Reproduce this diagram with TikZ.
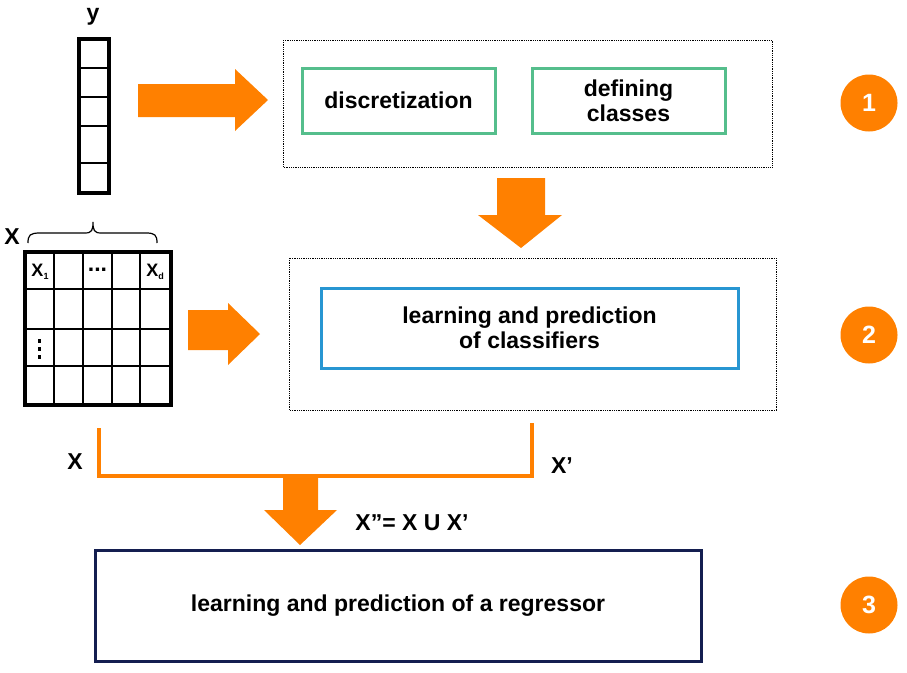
\documentclass[tikz,border=0pt]{standalone}
\usepackage{fontspec}
\setmainfont{Liberation Sans}
\begin{document}
\begin{tikzpicture}[x=1pt,y=-1pt,font=\bfseries\fontsize{23}{25}\selectfont,
  dotbox/.style={draw,densely dotted,line width=0.8pt},
  gbox/.style={draw=greenc,line width=3pt},
  num/.style={circle,fill=orangec,text=white,minimum size=57pt,inner sep=0pt,font=\bfseries\fontsize{25}{27}\selectfont},
  thick2/.style={line width=3.5pt}]
\definecolor{orangec}{RGB}{255,128,0}
\definecolor{greenc}{RGB}{85,190,140}
\definecolor{bluec}{RGB}{40,150,210}
\definecolor{navyc}{RGB}{20,30,80}
\useasboundingbox (0,0) rectangle (907,672);
% y vector
\node at (93,17) {y};
\foreach \yy in {68,97,126,163} \draw[line width=1.2pt] (79,\yy) -- (109,\yy);
\draw[thick2] (79,39) rectangle (109,193);
% arrow 1
\fill[orangec] (138,84) -- (235,84) -- (235,69) -- (268,100) -- (235,131) -- (235,117) -- (138,117) -- cycle;
% box 1
\draw[dotbox] (283,40) rectangle (772,167);
\node[gbox,minimum width=193pt,minimum height=65pt] (disc) at (398.5,100.5) {discretization};
\node[gbox,minimum width=193pt,minimum height=65pt,align=center] (def) at (628.5,100.5) {defining\\classes};
% down arrow 1
\fill[orangec] (497,178) -- (545,178) -- (545,215) -- (562,215) -- (521,248) -- (478,215) -- (497,215) -- cycle;
% brace
\draw[line width=1.2pt] (28,243) .. controls (28,235) and (30,233) .. (40,233) -- (85,233) .. controls (92,233) and (93,230) .. (93,222)
      .. controls (93,230) and (94,233) .. (101,233) -- (146,233) .. controls (155,233) and (157,235) .. (157,243);
\node at (12,237) {X};
% matrix
\foreach \xx in {54,83,112,140} \draw[line width=1.2pt] (\xx,252) -- (\xx,405);
\foreach \yy in {289,329,366} \draw[line width=1.2pt] (25,\yy) -- (171,\yy);
\draw[thick2] (25,252) rectangle (171,405);
\node[font=\bfseries\fontsize{18}{19}\selectfont] at (40,272) {X\raisebox{-3pt}{\fontsize{9}{9}\selectfont 1}};
\node at (97.5,270) {...};
\node[font=\bfseries\fontsize{18}{19}\selectfont] at (155,272) {X\raisebox{-3pt}{\fontsize{9}{9}\selectfont d}};
\foreach \yy in {339,347,355} \fill (37.5,\yy) rectangle +(3.5,3.5);
% arrow 2
\fill[orangec] (188,310) -- (228,310) -- (228,303) -- (260,334) -- (228,365) -- (228,350) -- (188,350) -- cycle;
% box 2
\draw[dotbox] (289,258) rectangle (776,410);
\node[draw=bluec,line width=3pt,minimum width=417pt,minimum height=80pt,align=center] (cls) at (529.5,328) {learning and prediction\\of classifiers};
% bracket
\draw[orangec,line width=3.5pt] (99,428) -- (99,476) -- (532,476) -- (532,423);
\node at (75,462) {X};
\node at (562,466) {X'};
% down arrow 2
\fill[orangec] (283,474) -- (318,474) -- (318,510) -- (337,510) -- (300,545) -- (264,510) -- (283,510) -- cycle;
\node at (412,523) {X''= X U X'};
% box 3
\node[draw=navyc,line width=3pt,minimum width=606pt,minimum height=111pt] (reg) at (398,605.5) {learning and prediction of a regressor};
% numbers
\node[num] (n1) at (869,103) {1};
\node[num] (n2) at (869,335) {2};
\node[num] (n3) at (869,605) {3};
\end{tikzpicture}
\end{document}
